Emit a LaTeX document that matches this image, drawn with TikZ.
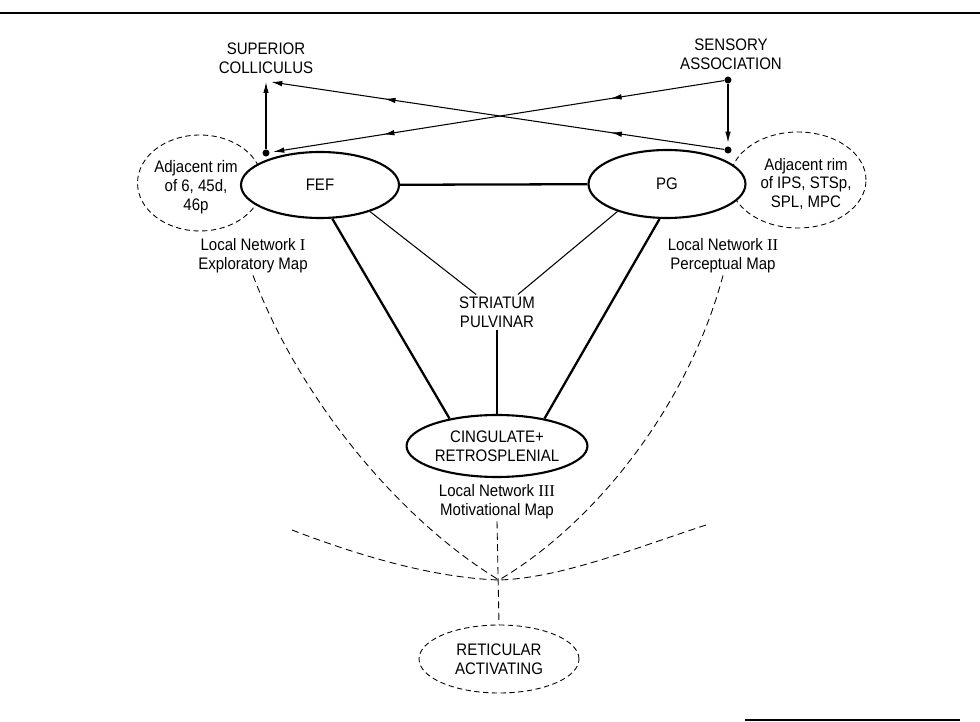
\documentclass[tikz,border=0pt]{standalone}
\usepackage{fontspec}
\setmainfont{Liberation Sans}[FakeStretch=0.9]
\newfontfamily\numfont{Liberation Serif}
\usetikzlibrary{shapes.geometric, arrows.meta, decorations.markings}

\begin{document}
\begin{tikzpicture}[x=0.02cm, y=-0.02cm, >={Latex[length=2.2mm,width=1.1mm]},
    area/.style={ellipse, draw, line width=1.2pt, fill=white, inner sep=0pt},
    rim/.style={ellipse, draw, line width=0.5pt, dash pattern=on 3pt off 2pt, inner sep=0pt},
    lbl/.style={align=center, font=\fontsize{9.5}{10.8}\selectfont, inner sep=1pt},
    heavy/.style={line width=1.3pt},
    light/.style={line width=0.6pt},
    flow/.style={line width=0.5pt, dash pattern=on 4pt off 2.5pt},
    midarrows/.style={postaction={decorate}, decoration={markings,
        mark=at position 0.25 with {\arrow{>}}, mark=at position 0.75 with {\arrow{>}}}},
    jdot/.style={circle, fill, inner sep=0pt, minimum size=4pt}]
  \useasboundingbox (0,0) rectangle (980,722);
  \draw[line width=1.6pt] (0,13) -- (980,13);
  \draw[line width=0.8pt] (745,720) -- (960,720);

  % adjacent rims, behind the areas
  \node[rim, minimum width=2.5cm, minimum height=1.92cm] (rimfef) at (200,183) {};
  \node[rim, minimum width=2.72cm, minimum height=1.92cm] (rimpg) at (798,180) {};
  \node[lbl] (rimfeftxt) at (196,187) {Adjacent rim\\of 6, 45d,\\46p};
  \node[lbl] (rimpgtxt) at (806,184) {Adjacent rim\\of IPS, STSp,\\SPL, MPC};

  % cortical areas
  \node[area, minimum width=3.16cm, minimum height=1.32cm, lbl] (fef) at (320,185) {FEF};
  \node[area, minimum width=3.14cm, minimum height=1.36cm, lbl] (pg) at (667,184) {PG};
  \node[area, minimum width=3.14cm, minimum height=1.24cm, lbl] (cing) at (497,446) {CINGULATE+\\RETROSPLENIAL};
  \node[rim, minimum width=3.2cm, minimum height=1.36cm, lbl] (retic) at (499,659) {RETICULAR\\ACTIVATING};

  % labels
  \node[lbl] (sc) at (266,58) {SUPERIOR\\COLLICULUS};
  \node[lbl] (sa) at (731,54) {SENSORY\\ASSOCIATION};
  \node[lbl] (str) at (497,312) {STRIATUM\\PULVINAR};
  \node[lbl] (lnone) at (253,256) {Local Network {\numfont I}\\Exploratory Map};
  \node[lbl] (lntwo) at (723,256) {Local Network {\numfont II}\\Perceptual Map};
  \node[lbl] (lnthree) at (497,502) {Local Network {\numfont III}\\Motivational Map};

  % junctions
  \coordinate (sctop) at (266,82);
  \node[jdot] (sadot) at (728,80) {};
  \node[jdot] (ldot) at (266,153) {};
  \node[jdot] (rdot) at (728,150) {};

  \draw[light, ->] (ldot) -- (sctop);
  \draw[light, ->, shorten >=2pt] (sadot) -- (rdot);
  \draw[light, ->, midarrows, shorten >=2pt] (sadot) -- (ldot);
  \draw[light, ->, midarrows] (rdot) -- ([xshift=3pt]sctop);

  % connections
  \draw[heavy] (fef) -- (pg);
  \draw[heavy] (fef.-70) -- (cing.150);
  \draw[heavy] (pg.-102) -- (cing.30);
  \draw[light] (fef.-28) -- (str.140);
  \draw[light] (pg.-151) -- (str.40);
  \draw[light] (str.south) -- (cing.north);

  % diffuse projections
  \coordinate (conv) at (499,580);
  \coordinate (outl) at (292,530);
  \coordinate (outr) at (706,525);
  \draw[flow] (lnone.south) .. controls (300,400) and (400,520) .. (conv);
  \draw[flow] (lntwo.south) .. controls (690,400) and (600,520) .. (conv);
  \draw[flow] (outl) .. controls (370,560) and (440,578) .. (conv);
  \draw[flow] (outr) .. controls (630,550) and (560,578) .. (conv);
  \draw[flow] (lnthree.south) -- (retic.north);
\end{tikzpicture}
\end{document}
